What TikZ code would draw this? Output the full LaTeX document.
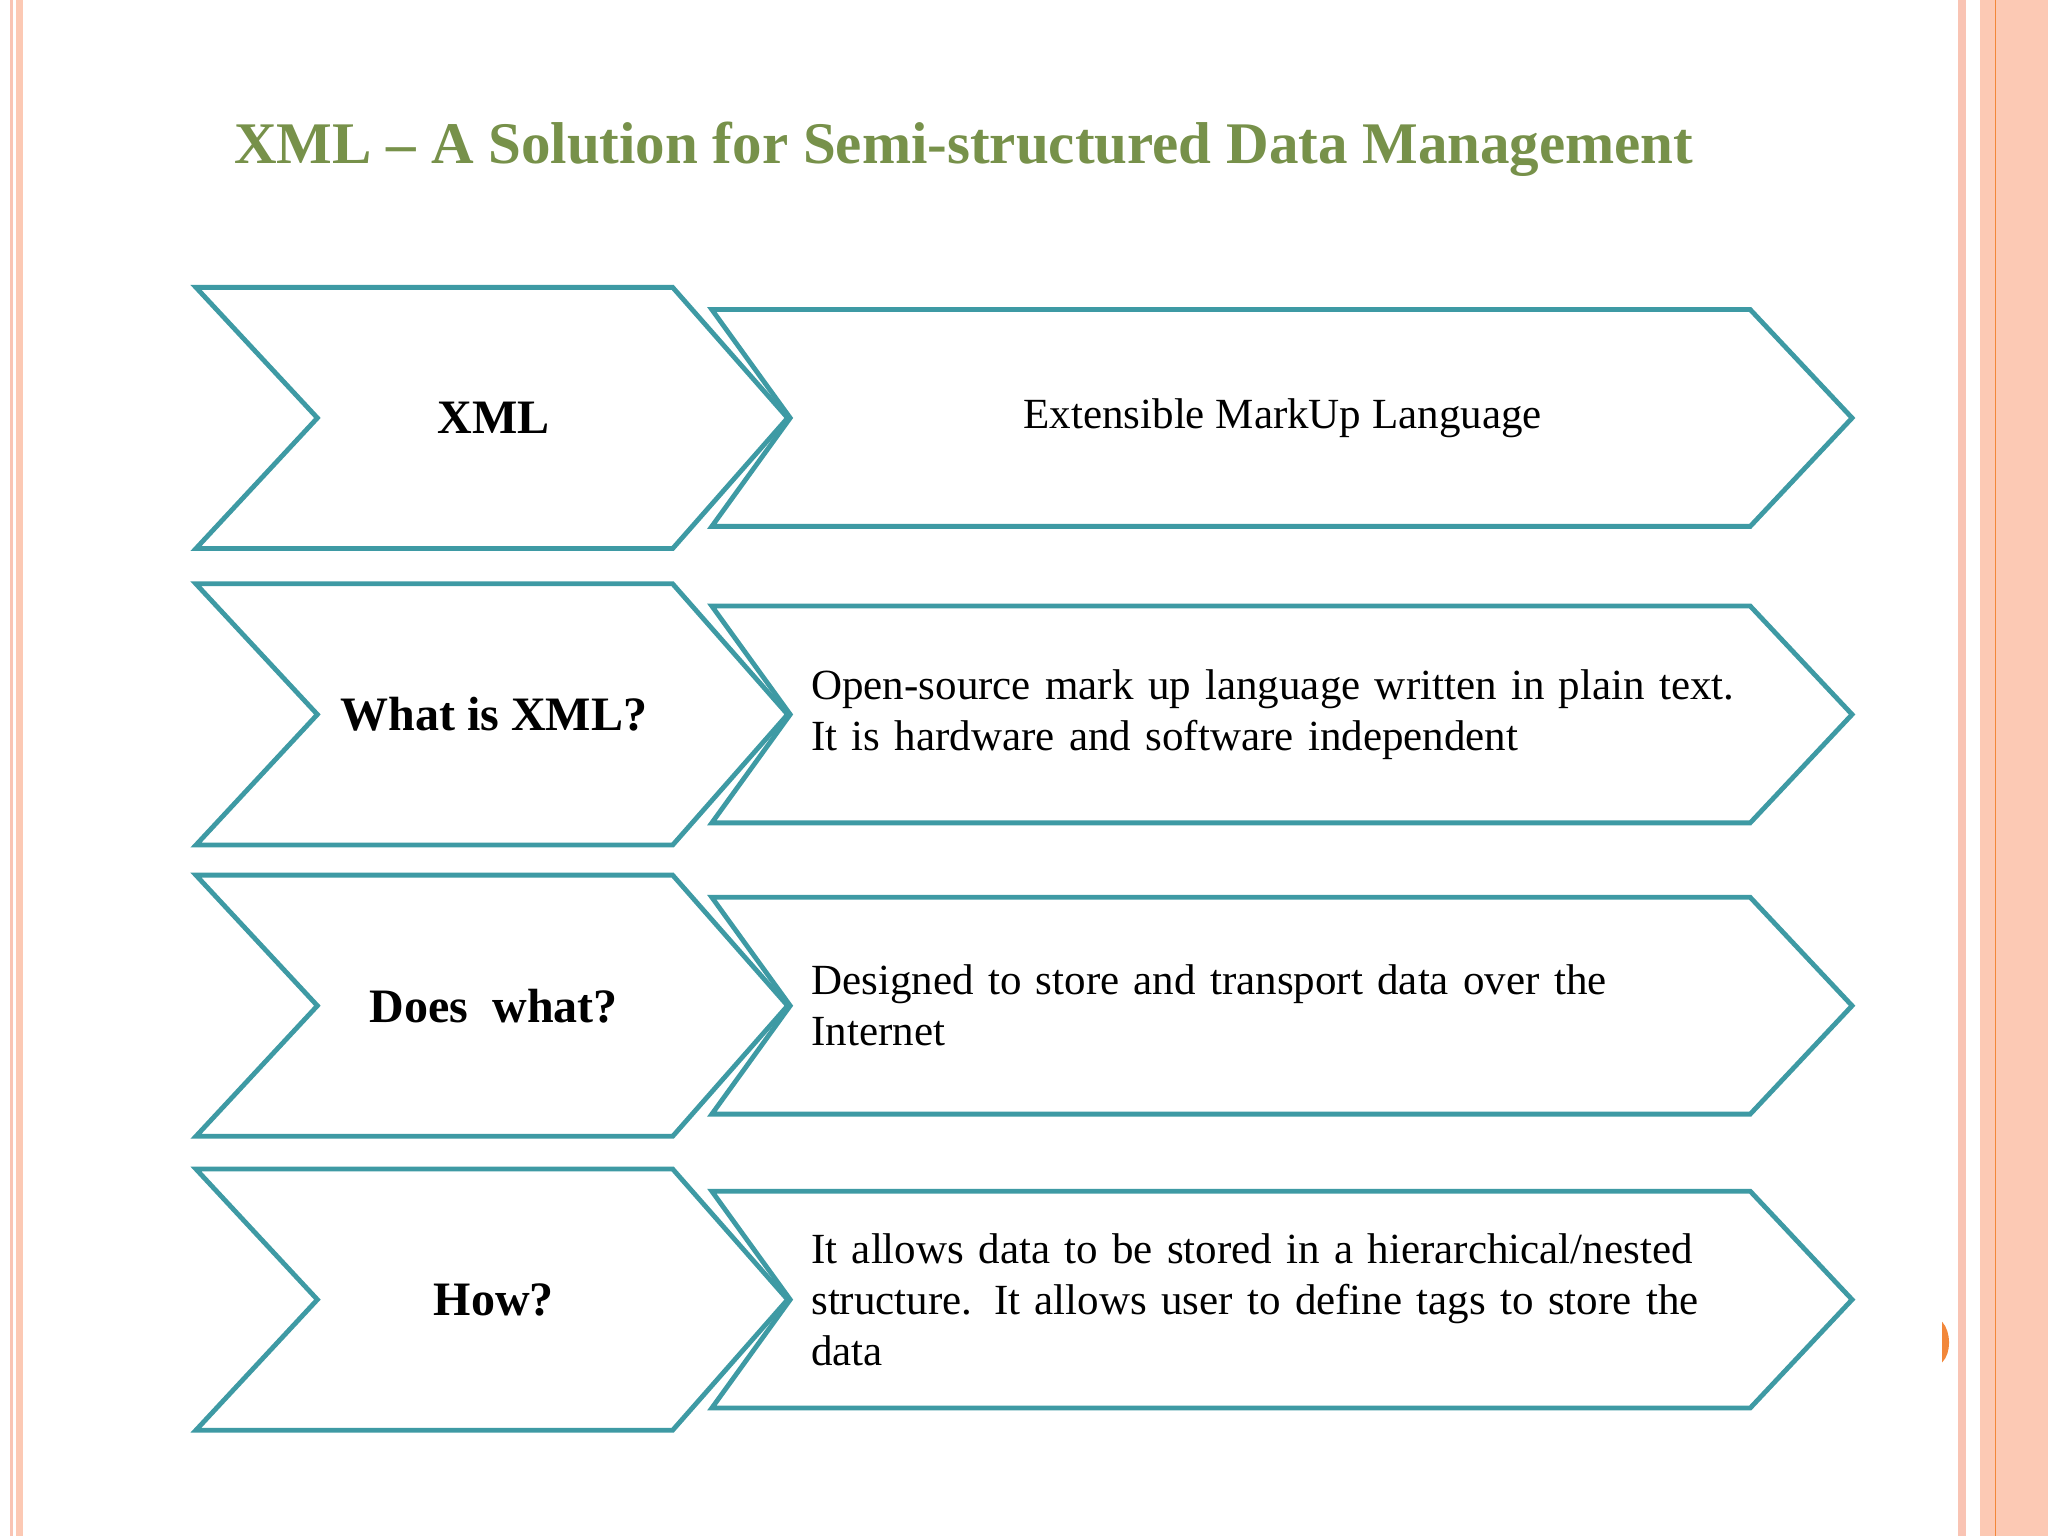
\documentclass[tikz,border=0pt]{standalone}
\usepackage{fontspec}
\setmainfont{Liberation Serif}
\begin{document}
\begin{tikzpicture}[x=1.306pt,y=-1.306pt,
  chev/.style={draw=teal0,line width=4.8pt,line join=miter,fill=white},
  lbl/.style={font=\bfseries\fontsize{48}{52}\selectfont,text=black},
  txt/.style={font=\fontsize{43}{51}\selectfont,align=left,anchor=west,text width=1000pt,inner sep=0pt}]
\definecolor{teal0}{HTML}{3E9AA4}
\definecolor{olive0}{HTML}{77914A}
\definecolor{pink0}{HTML}{F9C4B4}
\definecolor{salmon0}{HTML}{FCC9B4}
\definecolor{orange0}{HTML}{F2873A}
\useasboundingbox (0,0) rectangle (1568,1176);
\fill[white] (0,0) rectangle (1568,1176);
% borders
\fill[pink0] (7.5,0) rectangle (10,1176);
\fill[salmon0] (12,0) rectangle (17.5,1176);
\fill[pink0] (1499,0) rectangle (1505,1176);
\fill[salmon0] (1516,0) rectangle (1568,1176);
\draw[orange0,line width=1.2pt] (1528,0) -- (1528,1176);
\fill[orange0] (1487,1012) .. controls (1494,1020) and (1494,1036) .. (1487,1043) -- cycle;
% title
\node[font=\bfseries\fontsize{59}{64}\selectfont,text=olive0] (title) at (738,114) {XML -- A Solution for Semi-structured Data Management};
\foreach \i/\y/\a/\b in {1/320/XML/{Extensible MarkUp Language},
  2/547/{What is XML?}/{Open-source mark up language written in plain text.\\It is hardware and software independent},
  3/770/{Does\ \ what?}/{Designed to store and transport data over the\\Internet},
  4/995/{How?}/{It allows data to be stored in a hierarchical/nested\\structure. It allows user to define tags to store the\\data}}{
  \draw[chev] (545,\y-83) -- (1340,\y-83) -- (1418,\y) -- (1340,\y+83) -- (545,\y+83) -- (605,\y) -- cycle;
  \draw[chev] (150,\y-100) -- (515,\y-100) -- (603,\y) -- (515,\y+100) -- (150,\y+100) -- (243,\y) -- cycle;
  \node[lbl] (k\i) at (378,\y) {\a};
  \ifnum\i=1
    \node[font=\fontsize{43}{51}\selectfont] (v\i) at (982,\y) {\b};
  \else
    \node[txt] (v\i) at (621,\y) {\b};
  \fi
}
\end{tikzpicture}
\end{document}
